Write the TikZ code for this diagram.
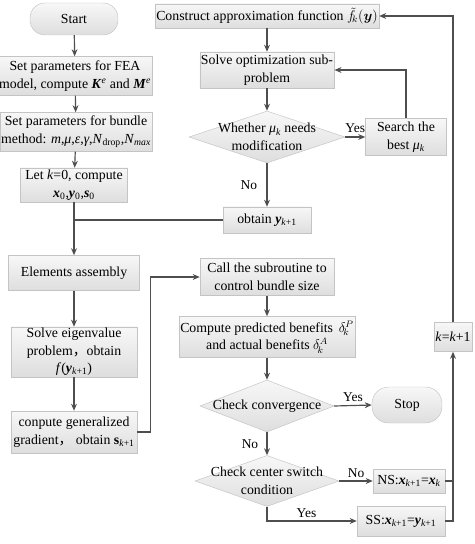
\documentclass[tikz,border=0pt]{standalone}
\usepackage{bm}
\usepackage{fontspec}
\setmainfont{Liberation Serif}
\newfontfamily\cjk{Noto Sans CJK SC}
\usepackage{tikz}
\usetikzlibrary{positioning, arrows.meta, calc, shapes.geometric}
\usepackage{xcolor}
\definecolor{boxline}{RGB}{196,196,196}
\definecolor{arrowgray}{RGB}{78,78,78}
\tikzset{
  box/.style={draw=boxline, top color=black!3, bottom color=black!13, align=center, inner sep=1pt},
  term/.style={box, rounded corners=0.45cm},
  decision/.style={diamond, draw=boxline, top color=black!3, bottom color=black!13, align=center, inner sep=-8pt, aspect=3},
  arr/.style={draw=arrowgray, line width=1pt, -{Stealth[length=6pt, width=5pt]}},
  conn/.style={draw=arrowgray, line width=1pt},
  lbl/.style={font=\fontsize{11.5}{13}\selectfont, inner sep=1pt}
}
\newcommand{\bx}[1]{\textbf{\textit{#1}}}
\newcommand{\kp}{\textsubscript{\textit{k}+1}}

\begin{document}
\begin{tikzpicture}[font=\fontsize{11.8}{15}\selectfont]
  \useasboundingbox (0,0) rectangle (14.22,-16.32);
  % left column
  \node[term, minimum width=2.64cm, minimum height=0.96cm] (start) at (2.22,-0.57) {Start};
  \node[box, minimum width=4.32cm, minimum height=1.17cm] (fea) at (2.25,-2.28) {Set parameters for FEA\\model, compute \bx{K}\textsuperscript{\textit{e}} and \bx{M}\textsuperscript{\textit{e}}};
  \node[box, minimum width=4.41cm, minimum height=1.17cm] (bundle) at (2.28,-3.96) {Set parameters for bundle\\method: \textit{m},\textit{μ},\textit{ε},\textit{γ},\textit{N}\textsubscript{drop},\textit{N}\textsubscript{\textit{max}}};
  \node[box, minimum width=3.21cm, minimum height=1.02cm] (init) at (2.22,-5.55) {Let \textit{k}=0, compute\\\bx{x}\textsubscript{0},\bx{y}\textsubscript{0},\bx{s}\textsubscript{0}};
  \node[box, minimum width=3.93cm, minimum height=1.05cm] (assem) at (2.22,-8.19) {Elements assembly};
  \node[box, minimum width=3.78cm, minimum height=1.41cm] (eigen) at (2.22,-10.56) {Solve eigenvalue\\problem{\cjk ，}obtain\\\textit{f}(\bx{y}\kp)};
  \node[box, minimum width=3.78cm, minimum height=1.26cm] (grad) at (2.22,-12.96) {conpute generalized\\gradient{\cjk ，} obtain \textbf{s}\kp};
  % right column
  \node[box, minimum width=6.57cm, minimum height=0.72cm] (construct) at (8.01,-0.48) {Construct approximation function $\tilde{f}_{\!k}\big(\bm{y}\big)$};
  \node[box, minimum width=4.02cm, minimum height=1.08cm] (solve) at (8.01,-2.10) {Solve optimization sub-\\problem};
  \node[decision, minimum width=4.68cm, minimum height=1.56cm] (whether) at (8.01,-4.11) {Whether \textit{μ}\textsubscript{\textit{k}} needs\\modification};
  \node[box, minimum width=2.43cm, minimum height=1.11cm] (search) at (12.18,-4.11) {Search the\\best \textit{μ}\textsubscript{\textit{k}}};
  \node[box, minimum width=2.64cm, minimum height=0.78cm] (obtain) at (8.01,-6.60) {obtain \bx{y}\kp};
  \node[box, minimum width=4.02cm, minimum height=1.11cm] (call) at (8.01,-8.31) {Call the subroutine to\\control bundle size};
  \node[box, minimum width=5.07cm, minimum height=1.23cm] (compute) at (8.01,-10.11) {Compute predicted benefits \,$\delta^{P}_{\!k}$\\and actual benefits $\delta^{A}_{\!k}$};
  \node[decision, minimum width=4.02cm, minimum height=1.56cm] (conv) at (8.01,-12.18) {Check convergence};
  \node[term, minimum width=2.10cm, minimum height=1.08cm, rounded corners=0.5cm] (stop) at (12.21,-12.15) {Stop};
  \node[decision, minimum width=4.32cm, minimum height=1.53cm] (switch) at (8.01,-14.43) {Check center switch\\condition};
  \node[box, minimum width=2.16cm, minimum height=0.72cm] (ns) at (12.27,-14.43) {NS:\bx{x}\kp=\bx{x}\textsubscript{\textit{k}}};
  \node[box, minimum width=2.64cm, minimum height=0.90cm] (ss) at (12.03,-15.63) {SS:\bx{x}\kp=\bx{y}\kp};
  \node[box, minimum width=1.11cm, minimum height=0.87cm] (kk) at (13.59,-10.11) {\textit{k}=\textit{k}+1};
  % connectors
  \coordinate (join) at (init.south |- obtain.west);
  \draw[arr] (start) -- (fea);
  \draw[arr] (fea) -- (bundle);
  \draw[arr] (bundle) -- (init);
  \draw[conn] (init.south) -- (join);
  \draw[conn] (obtain.west) -- (join);
  \draw[arr] (join) -- (assem.north);
  \draw[arr] (assem) -- (eigen);
  \draw[arr] (eigen) -- (grad);
  \draw[arr] (grad.east) -- ++(0.39,0) |- (call.west);
  \draw[arr] (construct) -- (solve);
  \draw[arr] (solve) -- (whether);
  \draw[arr] (whether.east) -- node[lbl, above=2pt] {Yes} (search.west);
  \draw[arr] (search.north) |- (solve.east);
  \draw[arr] (whether.south) -- node[lbl, left=7pt] {No} (obtain.north);
  \draw[arr] (call) -- (compute);
  \draw[arr] (compute) -- (conv);
  \draw[arr] (conv.east) -- node[lbl, above=2pt] {Yes} (stop.west);
  \draw[arr] (conv.south) -- node[lbl, left=6pt] {No} (switch.north);
  \draw[arr] (switch.east) -- node[lbl, above=1pt] {No} (ns.west);
  \draw[arr] (switch.south) |- node[lbl, pos=0.72, above=1pt] {Yes} (ss.west);
  \draw[conn] (ns.east) -- (ns.east -| kk.south);
  \draw[arr] (ss.east) -| (kk.south);
  \draw[arr] (kk.north) |- (construct.east);
\end{tikzpicture}
\end{document}
